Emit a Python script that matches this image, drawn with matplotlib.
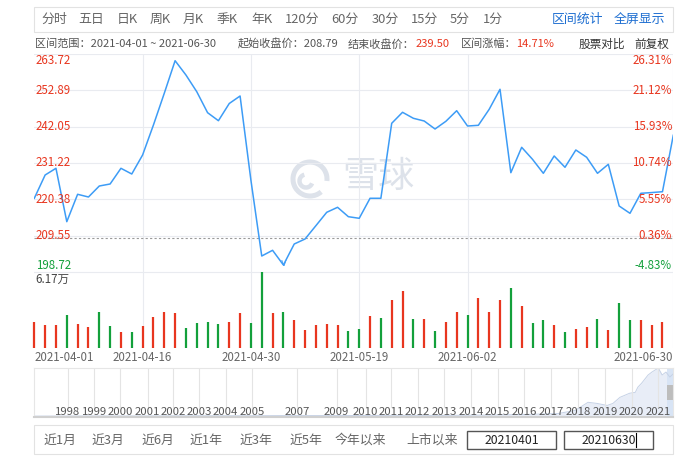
import matplotlib
matplotlib.use("Agg")
import matplotlib.pyplot as plt
import matplotlib.transforms as mtrans
from matplotlib.patches import Rectangle, Arc
from matplotlib.lines import Line2D

plt.rcParams['font.family'] = ['Noto Sans CJK SC', 'DejaVu Sans']

W, H = 690, 458

# daily close, 2021-04-01 .. 2021-06-30
close_prices = [220.70, 227.64, 229.64, 213.72, 221.89, 221.08, 224.36, 224.96, 229.64, 227.94,
                233.61, 242.55, 252.00, 261.72, 257.46, 252.48, 246.22, 243.83, 248.96, 251.20,
                226.10, 203.49, 205.19, 200.81, 207.07, 208.56, 212.53, 216.52, 218.01, 215.21,
                214.73, 220.70, 220.70, 243.06, 246.34, 244.55, 243.74, 241.36, 243.65, 246.81,
                242.25, 242.46, 247.23, 253.20, 228.33, 235.90, 232.32, 228.15, 233.31, 229.94,
                235.10, 232.92, 228.15, 230.83, 218.40, 216.22, 222.19, 222.40, 222.66, 239.50]
# volume in 万
volumes = [2.11, 1.87, 1.87, 2.68, 1.95, 1.70, 2.92, 1.79, 1.30, 1.30,
           1.79, 2.52, 2.92, 2.84, 1.62, 2.03, 2.11, 1.95, 2.11, 2.84,
           2.03, 6.17, 2.84, 2.92, 2.27, 1.46, 1.87, 1.95, 1.87, 1.40,
           1.54, 2.60, 2.44, 3.90, 4.63, 2.35, 2.35, 1.38, 2.11, 2.92,
           2.68, 4.06, 2.92, 3.90, 4.87, 3.41, 2.03, 2.27, 1.87, 1.30,
           1.54, 1.70, 2.35, 1.46, 3.65, 2.27, 2.27, 1.87, 2.11]
vol_up = [1, 1, 1, 0, 1, 1, 0, 0, 1, 0,
          1, 1, 1, 1, 0, 0, 0, 0, 1, 1,
          0, 0, 1, 0, 1, 1, 1, 1, 1, 0,
          0, 1, 0, 1, 1, 0, 1, 0, 1, 1,
          0, 1, 1, 1, 0, 1, 0, 0, 1, 0,
          1, 1, 0, 1, 0, 0, 1, 1, 1]

start_close = 208.79
price_ticks = [263.72, 252.89, 242.05, 231.22, 220.38, 209.55, 198.72]
pct_labels = ['26.31%', '21.12%', '15.93%', '10.74%', '5.55%', '0.36%', '-4.83%']
date_labels = ['2021-04-01', '2021-04-16', '2021-04-30', '2021-05-19', '2021-06-02', '2021-06-30']
date_idx = [0, 10, 20, 30, 40, 59]
vol_max = 6.17

# navigator: whole history (x = % of span)
nav_pos = [0, 8, 16, 24, 32, 40, 48, 56, 64, 72, 78, 82, 84.7, 86.7, 88.1, 89.7, 90.6, 91.7,
           93.2, 94.1, 94.5, 95.1, 96.1, 96.7, 97.7, 98.3, 98.9, 99.5, 100]
nav_price = [2, 3, 3, 4, 4, 5, 5, 6, 6, 8, 12, 16, 33, 77, 71, 60, 71, 104,
             126, 131, 159, 181, 225, 241, 263, 225, 241, 214, 230]
years = [1998, 1999, 2000, 2001, 2002, 2003, 2004, 2005, 2007, 2009, 2010, 2011,
         2012, 2013, 2014, 2015, 2016, 2017, 2018, 2019, 2020, 2021]
year_pos = [5.27, 9.44, 13.51, 17.79, 21.80, 25.87, 30.0, 34.16, 41.20, 47.37, 51.91, 55.92,
            60.05, 64.21, 68.39, 72.57, 76.73, 80.91, 85.18, 89.36, 93.54, 97.65]

RED = '#e8361f'
GREEN = '#13a03b'
GRID = '#e9ebf0'
GRAY = '#555555'
MARK = '#dde2ea'


def rect(x0, y0, x1, y1):
    return [x0 / W, 1 - y1 / H, (x1 - x0) / W, (y1 - y0) / H]


def ftext(x, y, s, **kw):
    kw.setdefault('va', 'center')
    fig.text(x / W, 1 - y / H, s, **kw)


def fbox(x0, y0, x1, y1, **kw):
    fig.add_artist(Rectangle((x0 / W, 1 - y1 / H), (x1 - x0) / W, (y1 - y0) / H,
                             transform=fig.transFigure, fill=False, **kw))


fig = plt.figure(figsize=(W / 100, H / 100), dpi=100)
fig.patch.set_facecolor('white')

# ---- toolbar
fbox(34, 7, 673, 32, edgecolor='#e2e2e2', lw=0.8)
tabs = ['分时', '五日', '日K', '周K', '月K', '季K', '年K', '120分', '60分', '30分', '15分', '5分', '1分']
tab_x = [41, 78, 117, 150, 183, 217, 251, 285, 331, 372, 411, 450, 483]
for t, x in zip(tabs, tab_x):
    ftext(x, 19, t, fontsize=9.3, color='#666666')
ftext(552, 19, '区间统计', fontsize=9.3, color='#1f6fd1')
ftext(614, 19, '全屏显示', fontsize=9.3, color='#1f6fd1')

# ---- summary row
ftext(35, 44, '区间范围：2021-04-01 ~ 2021-06-30', fontsize=8, color=GRAY)
ftext(238, 44, '起始收盘价：208.79', fontsize=8, color=GRAY)
ftext(348, 44, '结束收盘价：', fontsize=8, color=GRAY)
ftext(416, 44, '239.50', fontsize=8, color=RED)
ftext(461, 44, '区间涨幅：', fontsize=8, color=GRAY)
ftext(516, 44, '14.71%', fontsize=8, color=RED)
ftext(579, 44, '股票对比', fontsize=8.4, color='#333333')
ftext(634, 44, '前复权', fontsize=8.4, color='#333333')

# ---- price chart
ax = fig.add_axes(rect(34.3, 54, 673.3, 272))
ax.set_facecolor('none')
n = len(close_prices)
ax.set_xlim(0, n - 1)
ax.set_ylim(price_ticks[-1], price_ticks[0])
ax.set_yticks(price_ticks)
ax.set_xticks(date_idx[1:])
ax.tick_params(length=0, labelleft=False, labelbottom=False)
ax.grid(True, color=GRID, lw=0.8)
for s in ax.spines.values():
    s.set_visible(False)
ax.axhline(start_close, color='#9a9a9a', ls=(0, (2, 2)), lw=0.8)
ax.plot(range(n), close_prices, color='#3d9cf6', lw=1.1, zorder=3)

# watermark
ax.text(0.538, 0.435, '雪球', transform=ax.transAxes, ha='center', va='center',
        fontsize=26, color=MARK, zorder=0)
ax.add_artist(Arc((310 / W, 1 - 179 / H), 34 / W, 34 / H, theta1=-10, theta2=300,
                  transform=fig.transFigure, lw=3.6, color=MARK, zorder=0))
ax.add_artist(Arc((306 / W, 1 - 181 / H), 13 / W, 13 / H, theta1=100, theta2=330,
                  transform=fig.transFigure, lw=3.2, color=MARK, zorder=0))

ytr = mtrans.blended_transform_factory(ax.transAxes, ax.transData)
for i, (v, p) in enumerate(zip(price_ticks, pct_labels)):
    c = RED if v >= start_close else GREEN
    va = 'top' if i == 0 else ('bottom' if i == len(price_ticks) - 1 else 'center')
    ax.text(0.002, v, f'{v:.2f}', transform=ytr, color=c, fontsize=8.3, va=va, ha='left')
    ax.text(0.998, v, p, transform=ytr, color=c, fontsize=8.3, va=va, ha='right')

low_i = close_prices.index(min(close_prices))
ax.text(low_i, 0.02, 'v', transform=mtrans.blended_transform_factory(ax.transData, ax.transAxes),
        color='#3d9cf6', fontsize=7, ha='center', va='bottom', family='DejaVu Sans', zorder=4)

# ---- volume
vax = fig.add_axes(rect(34.3, 272.3, 673.3, 348.3))
vax.set_xlim(0, n - 1)
vax.set_ylim(0, vol_max)
vcolors = [RED if u else GREEN for u in vol_up]
vax.vlines(range(len(volumes)), 0, volumes, colors=vcolors, lw=1.6, clip_on=False)
vax.set_xticks(date_idx[1:])
vax.set_yticks([vol_max])
vax.tick_params(length=0, labelleft=False, labelbottom=False)
vax.grid(True, color=GRID, lw=0.8)
vax.set_axisbelow(True)
for s in vax.spines.values():
    s.set_visible(False)
vax.text(0.002, 0.995, f'{vol_max:.2f}万', transform=vax.transAxes, fontsize=8.3,
         color='#444444', va='top', ha='left')

xtr = mtrans.blended_transform_factory(vax.transData, vax.transAxes)
for i, (lab, d) in enumerate(zip(date_labels, date_idx)):
    ha = 'left' if i == 0 else ('right' if i == len(date_labels) - 1 else 'center')
    vax.text(d, -0.115, lab, transform=xtr, fontsize=8.3, color='#666666', ha=ha, va='center')

# ---- navigator
nav = fig.add_axes(rect(34, 368, 673, 416.5))
nav.set_xlim(0, 100)
nav.set_ylim(0, max(nav_price))
nav.fill_between(nav_pos, nav_price, color='#e8edf7', lw=0)
nav.plot(nav_pos, nav_price, color='#c6d2e6', lw=0.7)
for p in year_pos:
    nav.axvline(p, ymin=0.2, ymax=1, color='#e4e4e4', lw=0.8)
ntr = mtrans.blended_transform_factory(nav.transData, nav.transAxes)
for y, p in zip(years, year_pos):
    nav.text(p, 0.1, str(y), transform=ntr, fontsize=8.2, color=GRAY, ha='center', va='center')
nav.axvspan(99.0, 100, color='#d8e4f5', lw=0)
nav.add_patch(Rectangle((0.991, 0.34), 0.009, 0.31, transform=nav.transAxes,
                        color='#bdbdbd', lw=0))
nav.set_xticks([])
nav.set_yticks([])
for k, s in nav.spines.items():
    s.set_color('#e6e6e6')
    s.set_linewidth(0.8)
nav.spines['bottom'].set_color('#d0d0d0')
nav.spines['bottom'].set_linewidth(1.5)

# ---- range buttons
fbox(34, 425, 673, 453.5, edgecolor='#e2e2e2', lw=0.8)
ranges = ['近1月', '近3月', '近6月', '近1年', '近3年', '近5年', '今年以来', '上市以来']
range_x = [43, 92, 141, 190, 240, 289, 335, 406]
for t, x in zip(ranges, range_x):
    ftext(x, 440, t, fontsize=9.3, color='#666666')
fbox(467, 431, 556, 449, edgecolor='#555555', lw=1)
fbox(564, 431, 653, 449, edgecolor='#555555', lw=1)
ftext(511.5, 440, '20210401', fontsize=8.8, color='#222222', ha='center')
ftext(608.5, 440, '20210630', fontsize=8.8, color='#222222', ha='center')
fig.add_artist(Line2D([636 / W, 636 / W], [1 - 433 / H, 1 - 447 / H],
                      transform=fig.transFigure, color='#000000', lw=0.8))

fig.savefig('out.png', dpi=100)
